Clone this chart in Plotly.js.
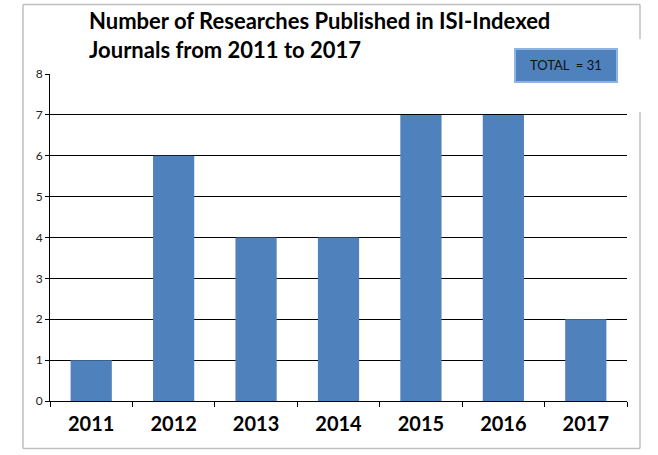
<!DOCTYPE html>
<html>
<head>
<meta charset="utf-8">
<script src="https://cdn.plot.ly/plotly-3.0.1.min.js"></script>
<style>
  html, body { margin: 0; padding: 0; background: #fff; }
  #chart { width: 658px; height: 455px; }
</style>
</head>
<body>
<div id="chart"></div>
<script>
const years = ['2011', '2012', '2013', '2014', '2015', '2016', '2017'];
const counts = [1, 6, 4, 4, 7, 7, 2];
const yTicks = [0, 1, 2, 3, 4, 5, 6, 7, 8];
const titleText = 'Number of Researches Published in ISI-Indexed<br>Journals from 2011 to 2017';
const totalText = 'TOTAL  = 31';

const W = 658, H = 455;
const L = 50, R = 31, T = 74, B = 54;
const PW = W - L - R, PH = H - T - B;
const px = x => (x - L) / PW;
const py = y => (H - B - y) / PH;

const borderColor = '#BFBFBF';
const shapes = [
  // outer chart border (right side interrupted near the total box)
  {type: 'line', xref: 'paper', yref: 'paper', x0: px(23), x1: px(640), y0: py(4.5), y1: py(4.5), line: {color: borderColor, width: 1.5}},
  {type: 'line', xref: 'paper', yref: 'paper', x0: px(23), x1: px(23), y0: py(4.5), y1: py(448.5), line: {color: borderColor, width: 1.5}},
  {type: 'line', xref: 'paper', yref: 'paper', x0: px(23), x1: px(640), y0: py(448.5), y1: py(448.5), line: {color: borderColor, width: 1.5}},
  {type: 'line', xref: 'paper', yref: 'paper', x0: px(640), x1: px(640), y0: py(4.5), y1: py(39), line: {color: borderColor, width: 1.5}},
  {type: 'line', xref: 'paper', yref: 'paper', x0: px(640), x1: px(640), y0: py(112), y1: py(448.5), line: {color: borderColor, width: 1.5}},
  // total box
  {type: 'rect', xref: 'paper', yref: 'paper', x0: px(515), x1: px(617), y0: py(49), y1: py(82),
   fillcolor: '#4F81BD', line: {color: '#8EB4E3', width: 2}, layer: 'above'}
];

const data = [{
  type: 'bar',
  x: years,
  y: counts,
  marker: {color: '#4F81BD', line: {width: 0}},
  hoverinfo: 'x+y'
}];

const layout = {
  width: W, height: H,
  margin: {l: L, r: R, t: T, b: B, pad: 0},
  paper_bgcolor: '#fff', plot_bgcolor: '#fff',
  showlegend: false,
  bargap: 0.5,
  title: {
    text: titleText,
    font: {family: 'Lato, "Open Sans", sans-serif', size: 22, color: '#000', weight: 'bold'},
    xref: 'container', yref: 'container',
    x: 89 / W, xanchor: 'left',
    y: 1 - 29 / H, yanchor: 'top'
  },
  xaxis: {
    type: 'category',
    range: [-0.5, 6.5],
    showline: true, linecolor: '#000', linewidth: 1,
    ticks: 'outside', tickson: 'boundaries', ticklen: 5, tickcolor: '#000', tickwidth: 1,
    showgrid: false, zeroline: false,
    ticklabelstandoff: 5,
    tickfont: {family: 'Lato, "Open Sans", sans-serif', size: 20, color: '#000', weight: 'bold'},
    fixedrange: true
  },
  yaxis: {
    range: [0, 8],
    tickvals: yTicks,
    showline: true, linecolor: '#000', linewidth: 1,
    ticks: 'outside', ticklen: 4, tickcolor: '#000', tickwidth: 1,
    showgrid: true, gridcolor: '#000', gridwidth: 1,
    zeroline: false,
    tickfont: {family: 'Lato, "Open Sans", sans-serif', size: 12, color: '#222'},
    fixedrange: true
  },
  shapes: shapes,
  annotations: [{
    xref: 'paper', yref: 'paper',
    x: px(566), y: py(65.5), xanchor: 'center', yanchor: 'middle',
    text: totalText, showarrow: false,
    font: {family: 'Lato, "Open Sans", sans-serif', size: 13, color: '#111'}
  }]
};

Plotly.newPlot('chart', data, layout, {displayModeBar: false, staticPlot: true});
</script>
</body>
</html>
